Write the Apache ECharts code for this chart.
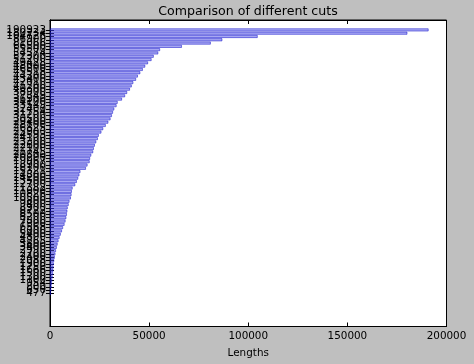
<!DOCTYPE html>
<html>
<head>
<meta charset="utf-8">
<script src="https://cdn.jsdelivr.net/npm/echarts@6/dist/echarts.min.js"></script>
<style>
html,body{margin:0;padding:0;background:#bfbfbf;}
#c{width:474px;height:364px;}
</style>
</head>
<body>
<div id="c"></div>
<script>
// Lengths of the cuts, largest first
const lengths = [190923,180234,104726,86900,81066,66500,55500,54574,52300,51200,
49428,48000,46800,45518,44300,43400,42010,41200,40300,38900,
37849,36300,34100,33549,32400,31754,31200,30500,29400,28100,
26825,25900,24593,24100,23300,22600,22100,21745,20800,20200,
19967,18900,18100,15321,14800,14200,13500,12700,11382,11000,
10826,10500,9800,9400,8900,8722,8500,8200,7800,7300,
6568,6000,5400,4800,4265,3800,3400,2990,2700,2400,
2088,1900,1750,1666,1500,1300,1100,954,800,650,477];
// Tick labels on the y axis (the lengths themselves)
const categories = ["190923","180234","104726","86900","81066","66500","55500","54574","52300","51200",
"49428","48000","46800","45518","44300","43400","42010","41200","40300","38900",
"37849","36300","34100","33549","32400","31754","31200","30500","29400","28100",
"26825","25900","24593","24100","23300","22600","22100","21745","20800","20200",
"19967","18900","18100","15321","14800","14200","13500","12700","11382","11000",
"10826","10500","9800","9400","8900","8722","8500","8200","7800","7300",
"6568","6000","5400","4800","4265","3800","3400","2990","2700","2400",
"2088","1900","1750","1666","1500","1300","1100","954","800","650","477"];
const padTop = 3;     // empty slots above the first bar
const padBottom = 10; // empty slots below the last bar
const xTicks = [0, 50000, 100000, 150000, 200000];

const blank = (n, tag) => Array.from({length: n}, (_, i) => tag + i);
const cats = blank(padTop, '_t').concat(categories, blank(padBottom, '_b'));
const barData = Array(padTop).fill(null).concat(lengths, Array(padBottom).fill(null));
const isReal = (i) => i >= padTop && i < padTop + categories.length;
const font = 'DejaVu Sans';
const fs = 10.4;
const chart = echarts.init(document.getElementById('c'), null, {renderer: 'canvas'});
chart.setOption({
  backgroundColor: '#bfbfbf',
  animation: false,
  title: {
    text: 'Comparison of different cuts',
    left: 248, top: 5, padding: 0, textAlign: 'center',
    textStyle: {fontFamily: font, fontSize: 12.6, fontWeight: 'normal', color: '#000'}
  },
  grid: {left: 50, right: 27.5, top: 20, bottom: 37.5, show: true, backgroundColor: '#fff', borderColor: '#000', borderWidth: 1},
  xAxis: [{
    type: 'value', min: xTicks[0], max: xTicks[xTicks.length - 1], interval: 50000,
    name: 'Lengths', nameLocation: 'middle', nameGap: 22,
    nameTextStyle: {fontFamily: font, fontSize: fs, color: '#000'},
    axisLine: {show: true, lineStyle: {color: '#000'}},
    axisTick: {show: true, inside: true, length: 4, lineStyle: {color: '#000'}},
    axisLabel: {fontFamily: font, fontSize: fs, color: '#000', margin: 5, formatter: (v) => String(v)},
    splitLine: {show: false}
  }, {
    type: 'value', position: 'top', min: 0, max: 200000, interval: 50000,
    axisLine: {show: true, lineStyle: {color: '#000'}},
    axisTick: {show: true, inside: true, length: 4, lineStyle: {color: '#000'}},
    axisLabel: {show: false}, splitLine: {show: false}
  }],
  yAxis: [{
    type: 'category', data: cats, inverse: true, boundaryGap: false,
    axisLine: {show: true, lineStyle: {color: '#000'}},
    axisTick: {show: true, inside: true, length: 4, interval: (i) => isReal(i), lineStyle: {color: '#000'}},
    axisLabel: {fontFamily: font, fontSize: fs, color: '#000', margin: 4,
      interval: 0, showMinLabel: true, showMaxLabel: true, hideOverlap: false,
      formatter: (v) => v.charAt(0) === '_' ? '' : v}
  }, {
    type: 'category', data: cats, inverse: true, position: 'right', boundaryGap: false,
    axisLine: {show: true, lineStyle: {color: '#000'}},
    axisTick: {show: true, inside: true, length: 4, interval: (i) => isReal(i), lineStyle: {color: '#000'}},
    axisLabel: {show: false}
  }],
  series: [{
    type: 'bar', xAxisIndex: 0, yAxisIndex: 0,
    data: barData,
    barWidth: 2.9,
    itemStyle: {color: 'rgba(80,80,230,0.5)', borderColor: 'rgba(0,0,200,0.8)', borderWidth: 0.6}
  }]
});
</script>
</body>
</html>
